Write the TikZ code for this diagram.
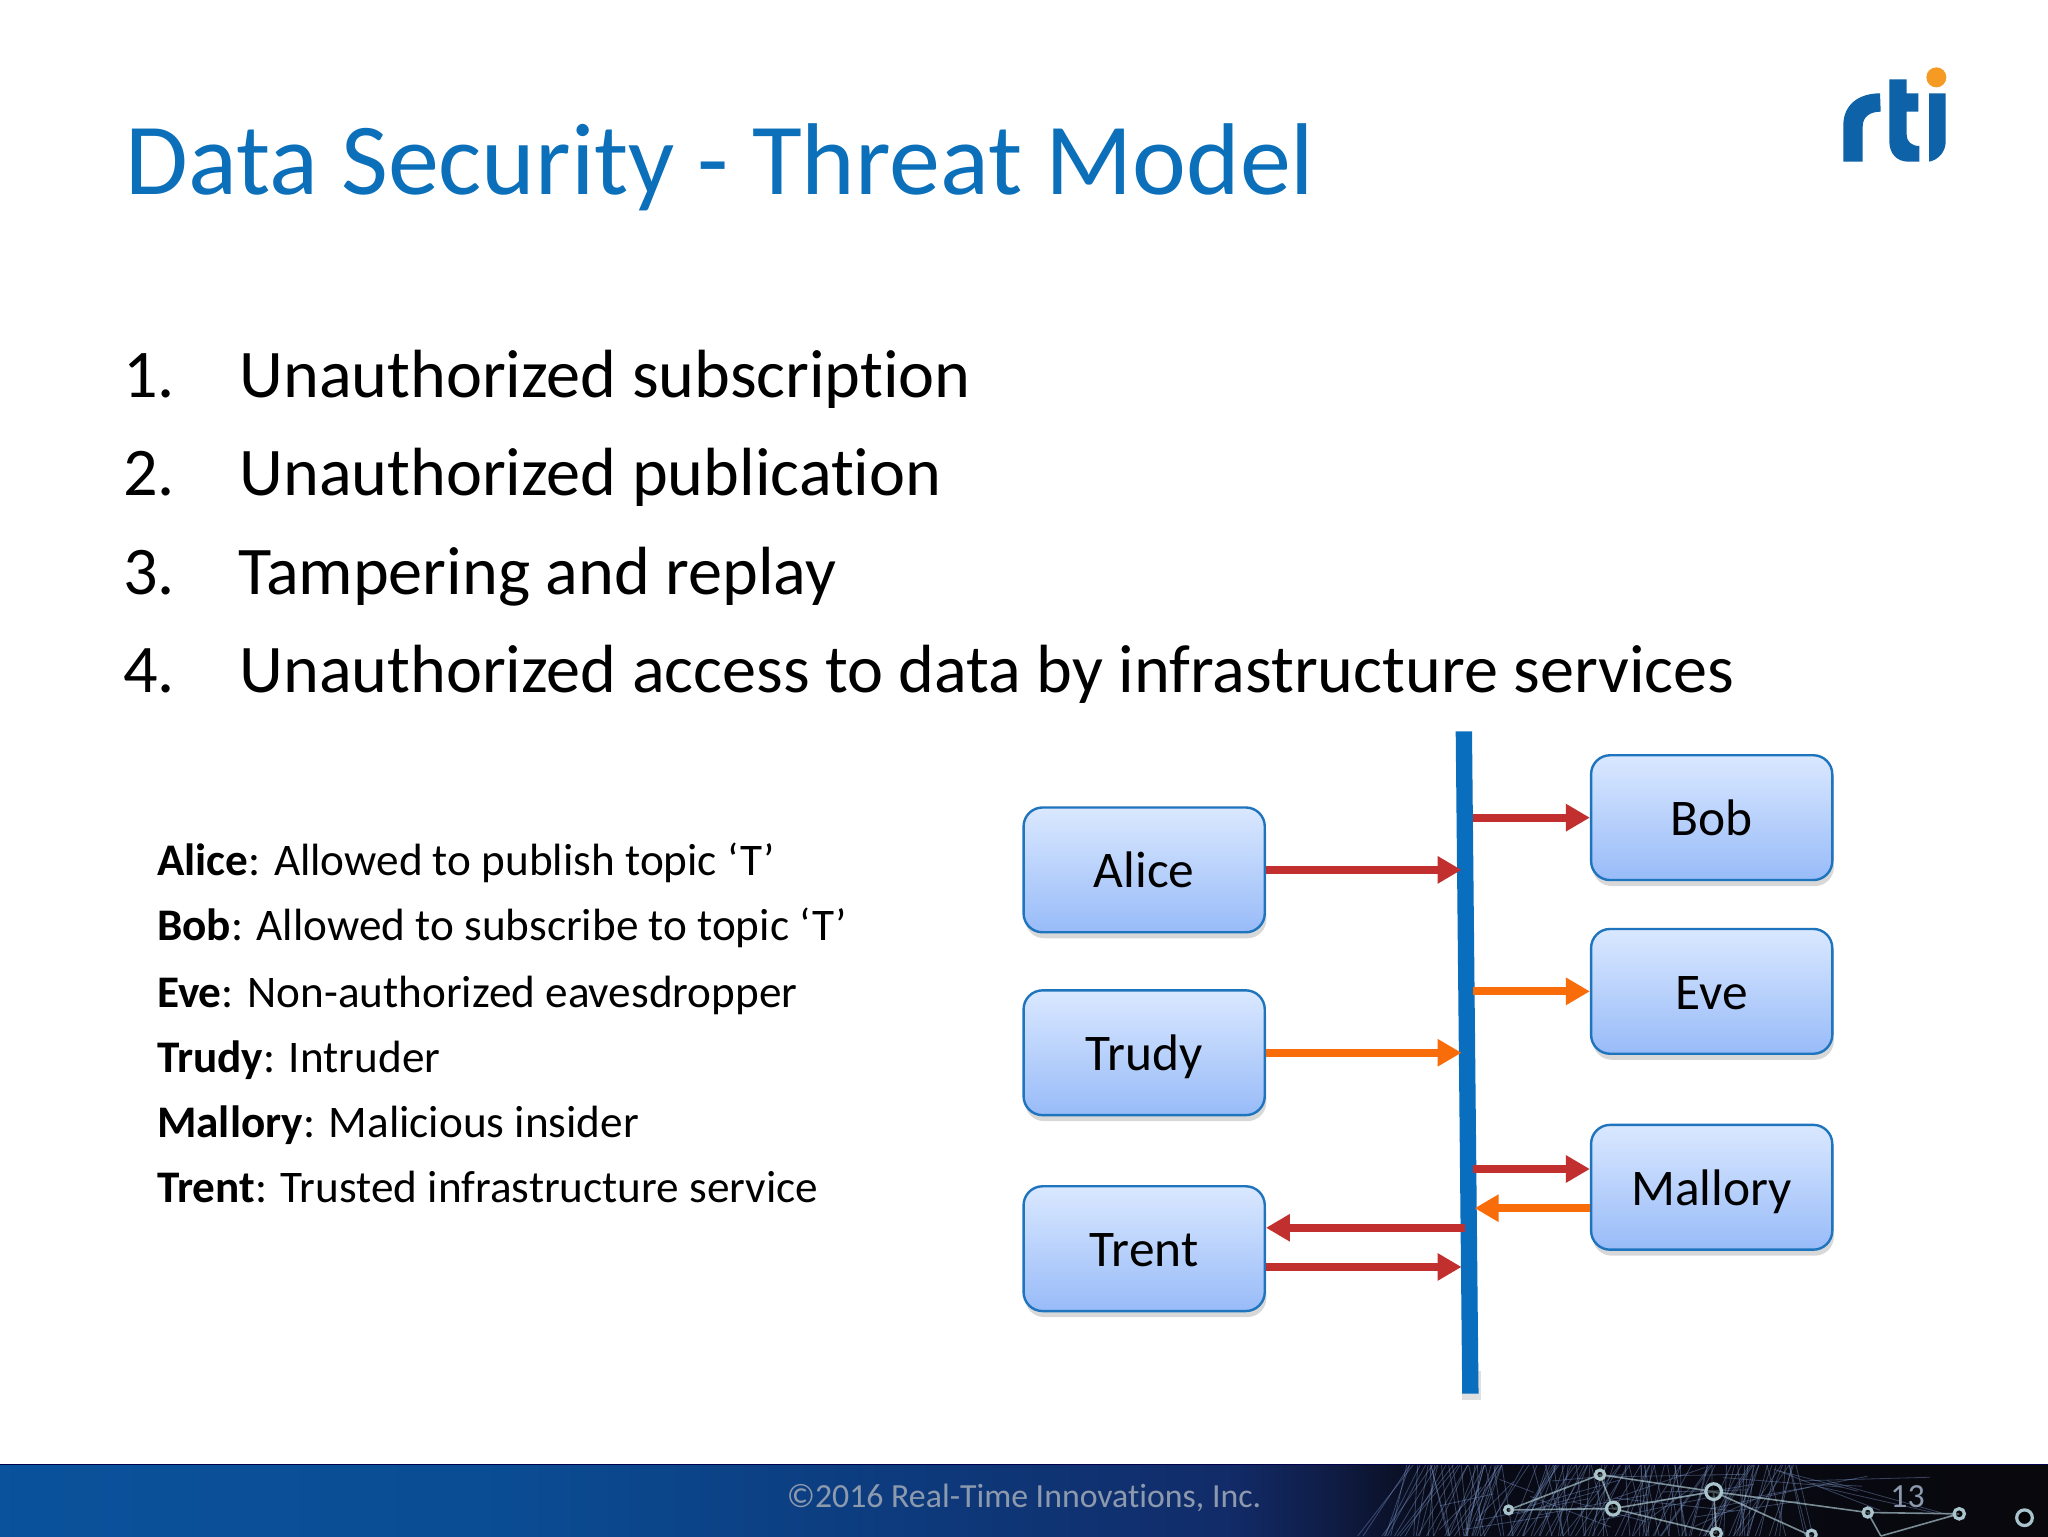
\documentclass[tikz,border=0pt]{standalone}
\usepackage{fontspec}
\setmainfont{Carlito}[Ligatures=NoCommon]
\usetikzlibrary{arrows.meta,shadows,calc}
\definecolor{titleblue}{HTML}{0B6FBA}
\definecolor{busblue}{HTML}{0A6EBE}
\definecolor{boxedge}{HTML}{1F74BE}
\definecolor{boxtop}{HTML}{DAE8FF}
\definecolor{boxbot}{HTML}{98BBF8}
\definecolor{redline}{HTML}{C1302F}
\definecolor{orangeline}{HTML}{F96C0A}
\definecolor{logoblue}{HTML}{0D62A8}
\definecolor{logodot}{HTML}{F59A23}
\definecolor{foottext}{HTML}{8D9AAE}
\definecolor{netblue}{HTML}{7F9CD0}
\definecolor{netpale}{HTML}{A9C4CC}
\pgfdeclarehorizontalshading{footshade}{100bp}{
 rgb(0bp)=(0.04,0.32,0.61);
 rgb(25bp)=(0.04,0.32,0.61);
 rgb(37bp)=(0.04,0.30,0.58);
 rgb(47bp)=(0.05,0.23,0.49);
 rgb(55bp)=(0.07,0.17,0.41);
 rgb(57.5bp)=(0.06,0.11,0.27);
 rgb(60bp)=(0.03,0.04,0.09);
 rgb(75bp)=(0.03,0.03,0.05);
 rgb(100bp)=(0.03,0.03,0.05)}
\tikzset{
 actor/.style={draw=boxedge,line width=1.2pt,rounded corners=9.5pt,minimum width=120.6pt,minimum height=62.4pt,
   top color=boxtop,bottom color=boxbot,font=\fontsize{25.7}{28}\selectfont,text=black,inner sep=0pt,
   text height=18pt,text depth=0pt,
   drop shadow={shadow xshift=0.8pt,shadow yshift=-3pt,fill=black!50,opacity=0.3}},
 flow/.style={line width=4pt},
 redflow/.style={flow,draw=redline,-{Triangle[length=12pt,width=13pt,fill=redline]}},
 orangeflow/.style={flow,draw=orangeline,-{Triangle[length=12pt,width=13pt,fill=orangeline]}},
 listitem/.style={anchor=base west,inner sep=0pt,font=\fontsize{34.1}{36}\selectfont,text=black},
 legend/.style={anchor=base west,inner sep=0pt,font=\fontsize{22.6}{26}\selectfont,text=black},
 foot/.style={anchor=base,inner sep=0pt,font=\fontsize{16.9}{20}\selectfont,text=foottext},
 netline/.style={line width=0.4pt,draw=netblue,opacity=0.4},
 netedge/.style={line width=0.8pt,draw=netpale,opacity=0.7},
 netring/.style={line width=1.6pt,draw=netpale,fill=black,fill opacity=0.5}
}
\begin{document}
\begin{tikzpicture}[x=0.653061pt,y=-0.653061pt]
\useasboundingbox (0,0) rectangle (1568,1176);
\fill[white] (0,0) rectangle (1568,1176);
% footer
\shade[shading=footshade] (0,1121) rectangle (1568,1176);
\fill[black!70!blue] (0,1120.5) rectangle (1568,1122);
\begin{scope}
\clip (1000,1122) rectangle (1568,1176);
\pgfmathsetseed{42}
\foreach \i in {1,...,130}{
  \pgfmathsetmacro{\xa}{1075+rnd*300}
  \pgfmathsetmacro{\xb}{\xa-45+rnd*60}
  \draw[netline] (\xa,1121) -- (\xb,1176);
}
\foreach \i in {1,...,30}{
  \pgfmathsetmacro{\xa}{1100+rnd*300}
  \pgfmathsetmacro{\xb}{\xa+20+rnd*100}
  \draw[netline] (\xa,1122+rnd*50) -- (\xb,1122+rnd*50);
}
\foreach \a/\b/\c/\d in {1155/1156/1235/1155,1235/1155/1312/1142,1312/1142/1225/1129,1225/1129/1235/1155,1235/1155/1314/1174,1312/1142/1387/1176,1312/1142/1430/1158,1430/1158/1500/1159,1312/1142/1314/1174,1155/1156/1225/1129,1500/1159/1440/1176,1430/1158/1440/1176}{
  \draw[netedge] (\a,\b) -- (\c,\d);
}
\foreach \a/\b/\r in {1155/1156/3,1235/1155/5,1312/1142/6,1225/1129/3.5,1430/1158/3.5,1500/1159/4,1550/1162/6,1314/1174/4,1387/1175/3.5}{
  \draw[netring] (\a,\b) circle (\r);
}
\end{scope}
\node[foot] (copyright) at (784,1154) {©2016 Real-Time Innovations, Inc.};
\node[foot] (pagenum) at (1460.5,1154) {13};
% logo
\begin{scope}[shift={(890pt,-20pt)},x=0.166667pt,y=-0.166667pt]
\fill[logoblue] (190,365) -- (190,255) .. controls (190,195) and (235,160) .. (300,160) -- (302,215) .. controls (270,215) and (248,230) .. (248,260) -- (248,365) -- cycle;
\fill[logoblue] (328,118) -- (380,118) -- (380,160) -- (415,160) -- (415,215) -- (380,215) -- (380,285) .. controls (380,305) and (395,318) .. (418,318) -- (418,365) -- (385,365) .. controls (350,365) and (328,340) .. (328,305) -- cycle;
\fill[logoblue] (447,160) -- (497,160) -- (497,305) .. controls (497,335) and (475,360) .. (447,365) -- cycle;
\fill[logodot] (469,112) circle (30);
\end{scope}
% title
\node[anchor=base west,inner sep=0pt,font=\fontsize{51}{60}\selectfont,text=titleblue] (title) at (96,149) {Data Security - Threat Model};
% list
\node[listitem] (n1) at (94,304) {1.};
\node[listitem] (i1) at (183,304) {Unauthorized subscription};
\node[listitem] (n2) at (94,379) {2.};
\node[listitem] (i2) at (183,379) {Unauthorized publication};
\node[listitem] (n3) at (94,455) {3.};
\node[listitem] (i3) at (182,455) {Tampering and replay};
\node[listitem] (n4) at (94,530) {4.};
\node[listitem] (i4) at (183,530) {Unauthorized access to data by infrastructure services};
% legend
\node[legend] (l1) at (120,670) {\textbf{Alice}: Allowed to publish topic ‘T’};
\node[legend] (l2) at (120,720) {\textbf{Bob}: Allowed to subscribe to topic ‘T’};
\node[legend] (l3) at (120,771) {\textbf{Eve}: Non-authorized eavesdropper};
\node[legend] (l4) at (120,821) {\textbf{Trudy}: Intruder};
\node[legend] (l5) at (120,871) {\textbf{Mallory}: Malicious insider};
\node[legend] (l6) at (120,921) {\textbf{Trent}: Trusted infrastructure service};
% bus
\fill[black,opacity=0.12] (1119,1050) -- (1134,1050) -- (1134,1072) -- (1119,1072) -- cycle;
\fill[busblue] (1114.5,560) -- (1127,560) -- (1132,1067) -- (1119.5,1067) -- cycle;
% actors
\node[actor] (alice) at (876,666) {Alice};
\node[actor] (trudy) at (876,806) {Trudy};
\node[actor] (trent) at (876,956) {Trent};
\node[actor] (bob) at (1310.5,626) {Bob};
\node[actor] (eve) at (1310.5,759) {Eve};
\node[actor] (mallory) at (1310.5,909) {Mallory};
% bus contact points
\coordinate (busalice) at (1119,666);
\coordinate (bustrudy) at (1119,806);
\coordinate (bustrentout) at (1122,940);
\coordinate (bustrentin) at (1119,970);
\coordinate (busbob) at (1128,626);
\coordinate (buseve) at (1128,759);
\coordinate (busmalout) at (1128,895);
\coordinate (busmalin) at (1129,925);
% connectors
\draw[redflow] (alice.east) -- (busalice);
\draw[orangeflow] (trudy.east) -- (bustrudy);
\draw[redflow] (bustrentout) -- (trent.east |- bustrentout);
\draw[redflow] (trent.east |- bustrentin) -- (bustrentin);
\draw[redflow] (busbob) -- (bob.west);
\draw[orangeflow] (buseve) -- (eve.west);
\draw[redflow] (busmalout) -- (mallory.west |- busmalout);
\draw[orangeflow] (mallory.west |- busmalin) -- (busmalin);
\end{tikzpicture}
\end{document}
